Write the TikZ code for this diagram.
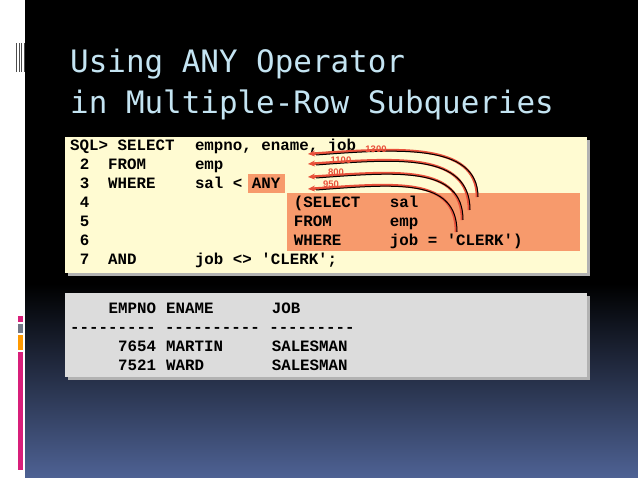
\documentclass[tikz,border=0pt]{standalone}
\usetikzlibrary{arrows.meta,calc}
\usepackage{fontspec}
\setmonofont{Liberation Mono}
\newfontfamily\titlefont{DejaVu Sans Mono}
\newfontfamily\lblfont{Liberation Sans}
\definecolor{ttl}{HTML}{C4E4F2}
\definecolor{ylw}{HTML}{FFFBD2}
\definecolor{sal}{HTML}{F79A6C}
\definecolor{gry}{HTML}{DCDCDC}
\definecolor{slate}{HTML}{4E6294}
\definecolor{pnk}{HTML}{D81F7A}
\definecolor{arr}{HTML}{E8503A}
\begin{document}
\begin{tikzpicture}[x=1pt,y=-1pt,
  code/.style={anchor=base west,inner sep=0pt,font=\ttfamily\bfseries\fontsize{15.8}{16}\selectfont},
  ttlst/.style={anchor=base west,inner sep=0pt,text=ttl,font=\titlefont\fontsize{30.9}{32}\selectfont},
  lbl/.style={inner sep=0pt,text=arr,font=\lblfont\bfseries\fontsize{9.5}{10}\selectfont},
]
\useasboundingbox (0,0) rectangle (638,478);
\fill[white] (0,0) rectangle (25,478);
\fill[black] (25,0) rectangle (638,285);
\shade[top color=black,bottom color=slate] (25,284) rectangle (638,478);
% left decoration
\foreach \x in {16,18.5,21,23.5} \fill[gray!60!black] (\x,43) rectangle ++(1.3,29);
\fill[pnk] (18,316) rectangle (23,322);
\fill[gray!70!slate] (18,324) rectangle (23,333);
\fill[orange!80!yellow] (18,335) rectangle (23,350);
\fill[pnk] (18,352) rectangle (23,470);
% title
\node[ttlst] (t1) at (70,73) {Using ANY Operator};
\node[ttlst] (t2) at (70,114) {in Multiple-Row Subqueries};
% boxes
\fill[gray!60] (68,140) rectangle (590,276);
\fill[ylw] (65,137) rectangle (587,273);
\fill[sal] (248,174) rectangle (285,193);
\fill[sal] (287,193) rectangle (580,251);
\fill[gray!60] (68,296) rectangle (590,380);
\fill[gry] (65,293) rectangle (587,377);
% code
\newcommand\cd[4]{\node[code] (#1) at ({70+#2*9.6},#3) {#4};}
\cd{l1a}{0}{151}{SQL> SELECT}
\cd{l1b}{13}{151}{empno, ename, job}
\cd{l2a}{1}{170}{2\ \ FROM}
\cd{l2b}{13}{170}{emp}
\cd{l3a}{1}{189}{3\ \ WHERE}
\cd{l3b}{13}{189}{sal < ANY}
\cd{l4a}{1}{208}{4}
\cd{l4b}{23.3}{208}{(SELECT}
\cd{l4c}{33.3}{208}{sal}
\cd{l5a}{1}{227}{5}
\cd{l5b}{23.3}{227}{FROM}
\cd{l5c}{33.3}{227}{emp}
\cd{l6a}{1}{246}{6}
\cd{l6b}{23.3}{246}{WHERE}
\cd{l6c}{33.3}{246}{job = 'CLERK')}
\cd{l7a}{1}{265}{7\ \ AND}
\cd{l7b}{13}{265}{job <> 'CLERK';}
\cd{r0a}{4}{314}{EMPNO}
\cd{r0b}{10}{314}{ENAME}
\cd{r0c}{21}{314}{JOB}
\cd{r1}{0}{333}{--------- ---------- ---------}
\cd{r2a}{5}{352}{7654}
\cd{r2b}{10}{352}{MARTIN}
\cd{r2c}{21}{352}{SALESMAN}
\cd{r3a}{5}{371}{7521}
\cd{r3b}{10}{371}{WARD}
\cd{r3c}{21}{371}{SALESMAN}
% arrows
\foreach \n/\sx/\sy/\tx/\ty in {a/477/197/308/154, b/469/210/308/164, c/462/220/308/177, d/456/232/308/189}{
  \coordinate (s\n) at (\sx,\sy);
  \coordinate (e\n) at (\tx,\ty);
  \draw[arr,line width=2.6pt,-{Stealth[length=7pt,width=6pt]}] (s\n) .. controls (\sx,\ty-12) and ({\tx+90},{\ty-6}) .. (e\n);
  \draw[black,line width=1pt] ($(s\n)+(1,0)$) .. controls (\sx+1,\ty-11) and ({\tx+90},{\ty-5}) .. ($(e\n)+(8,1)$);
}
\node[lbl] (v1) at (376,149) {1300};
\node[lbl] (v2) at (341,160) {1100};
\node[lbl] (v3) at (336,172) {800};
\node[lbl] (v4) at (331,184) {950};
\end{tikzpicture}
\end{document}
